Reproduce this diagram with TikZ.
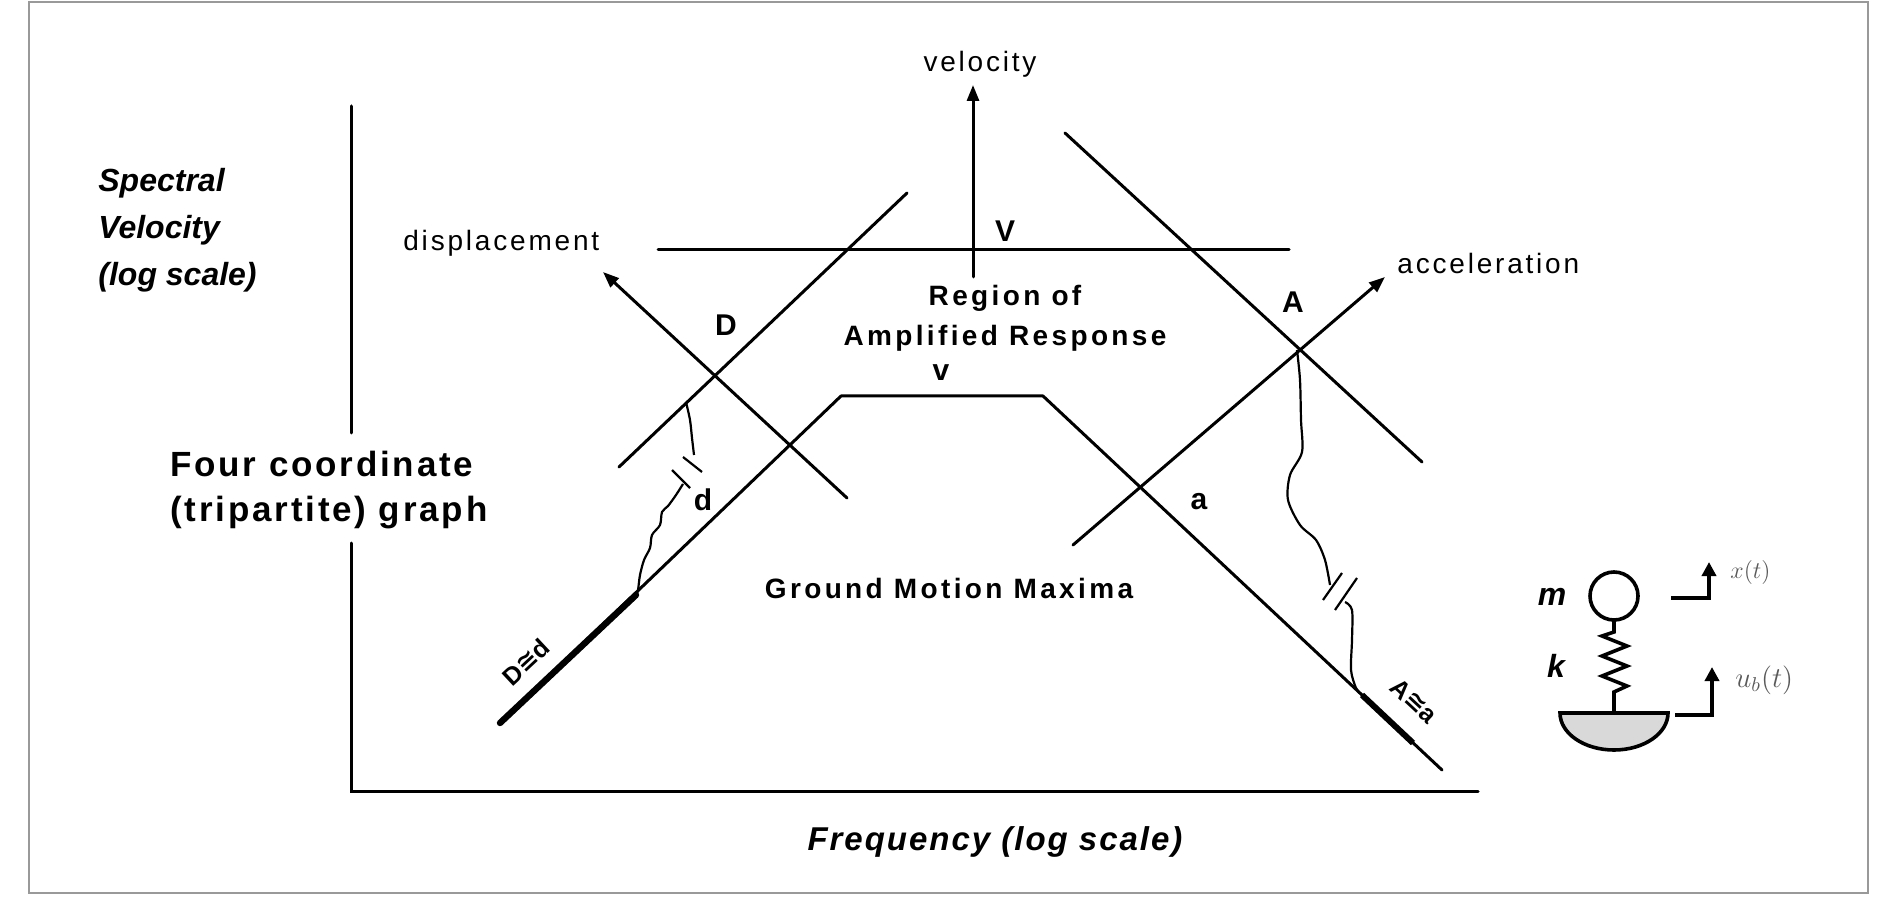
\documentclass[tikz,border=0pt]{standalone}
\usepackage{fontspec}
\setmainfont{Liberation Sans}
\newfontfamily\serifit{Liberation Serif}
\newfontfamily\djv{DejaVu Sans}
\usetikzlibrary{arrows.meta}
\tikzset{
  ln/.style={line width=1.5pt, line cap=round},
  arr/.style={ln, -{Triangle[length=8pt,width=6pt]}},
  lbl/.style={font=\fontsize{15}{18}\selectfont\bfseries, inner sep=0pt},
  sml/.style={font=\addfontfeature{LetterSpace=10}\fontsize{14}{16}\selectfont, inner sep=0pt},
  big/.style={font=\addfontfeature{LetterSpace=12}\fontsize{14}{20}\selectfont\bfseries, inner sep=0pt, align=center},
  eqlbl/.style={font=\fontsize{12.5}{15}\selectfont\bfseries, inner sep=0pt},
  wav/.style={line width=1.1pt, line join=round}
}
\begin{document}
\begin{tikzpicture}[x=0.5pt,y=-0.5pt]
\useasboundingbox (0,0) rectangle (1894,897);
\draw[gray!80, line width=1.2pt] (29,2) rectangle (1868,893);
% axes
\coordinate (yt) at (351,106); \coordinate (yb) at (351,791); \coordinate (xr) at (1478,791);
\draw[ln] (yt) -- (351,433);
\draw[ln] (351,543) -- (yb) -- (xr);
\node[font=\fontsize{16}{23.5}\selectfont\bfseries\itshape, align=left, anchor=west, inner sep=0pt] (yl) at (98,230) {Spectral\\Velocity\\(log scale)};
\node[font=\addfontfeature{LetterSpace=8}\fontsize{17.5}{22.5}\selectfont\bfseries, align=left, anchor=west, inner sep=0pt] (fc) at (170,490) {Four coordinate\\(tripartite) graph};
\node[font=\addfontfeature{LetterSpace=6}\fontsize{16.5}{20}\selectfont\bfseries\itshape, inner sep=0pt] (xl) at (995,842) {Frequency (log scale)};
% velocity
\coordinate (v0) at (973,277); \coordinate (v1) at (973,85);
\draw[arr] (v0) -- (v1);
\node[sml] (vl) at (980,64) {velocity};
\coordinate (Vl) at (658,250); \coordinate (Vr) at (1289,250);
\draw[ln] (Vl) -- (Vr);
\node[lbl] (Vt) at (1005,231) {V};
% D line and displacement arrow
\coordinate (D0) at (619,467); \coordinate (D1) at (907,193);
\draw[ln] (D0) -- (D1);
\coordinate (d0) at (847,498); \coordinate (d1) at (603,272);
\draw[arr] (d0) -- (d1);
\node[sml, anchor=west] (dl) at (403,243) {displacement};
\node[lbl] (Dt) at (726,325) {D};
% A line and acceleration arrow
\coordinate (A0) at (1065,133); \coordinate (A1) at (1422,462);
\draw[ln] (A0) -- (A1);
\coordinate (a0) at (1073,545); \coordinate (a1) at (1385,277);
\draw[arr] (a0) -- (a1);
\node[sml, anchor=west] (al) at (1397,263) {acceleration};
\node[lbl] (At) at (1293,302) {A};
% ground motion trapezoid
\coordinate (g0) at (500,723); \coordinate (g1) at (636,595); \coordinate (g2) at (841,396);
\coordinate (g3) at (1043,396); \coordinate (g4) at (1362,695); \coordinate (g5) at (1413,743); \coordinate (g6) at (1442,770);
\draw[ln, line join=round] (g0) -- (g2) -- (g3) -- (g6);
\draw[line width=3.2pt, line cap=round] (g0) -- (g1);
\draw[line width=3pt] (g4) -- (g5);
\node[lbl] (vt) at (941,373) {v};
\node[lbl] (dt) at (703,500) {d};
\node[lbl] (at) at (1199,502) {a};
\node[eqlbl, rotate=43] (Dd) at (526,662) {D{\djv\bfseries ≅}d};
\node[eqlbl, rotate=-43] (Aa) at (1414,701) {A{\djv\bfseries ≅}a};
\node[big] (reg) at (1005,318) {Region of\\Amplified Response};
\node[big] (gm) at (949,588) {Ground Motion Maxima};
% wavy lines
\draw[wav] plot[smooth] coordinates {(686,402) (690,420) (692,438) (694,455)};
\draw[wav] (683,457) -- (702,472);
\draw[wav] (672,470) -- (690,488);
\draw[wav] plot[smooth] coordinates {(683,484) (676,495) (668,506) (662,512) (660,525) (652,535) (650,548) (644,560) (640,575) (638,590) (636,596)};
\draw[wav] plot[smooth] coordinates {(1297,350) (1300,380) (1301,420) (1302,452) (1290,475) (1288,500) (1300,525) (1316,540) (1325,560) (1330,585)};
\draw[wav] (1323,600) -- (1342,573);
\draw[wav] (1335,610) -- (1357,578);
\draw[wav] plot[smooth] coordinates {(1345,602) (1352,610) (1352,640) (1351,670) (1356,688) (1362,695)};
% mass-spring oscillator
\draw[line width=1.8pt] (1614,596) circle[radius=24];
\draw[line width=1.8pt, line join=miter] (1614,620) -- (1614,632) -- (1602,636) -- (1627,646) -- (1602,656) -- (1627,666) -- (1602,676) -- (1627,686) -- (1614,692) -- (1614,713);
\draw[line width=1.8pt, fill=gray!30] (1560,713) -- (1668,713) arc[start angle=0, end angle=180, x radius=54, y radius=37] -- cycle;
\node[font=\fontsize{16}{18}\selectfont\bfseries\itshape, inner sep=0pt] (ml) at (1552,597) {m};
\node[font=\fontsize{16}{18}\selectfont\bfseries\itshape, inner sep=0pt] (kl) at (1556,666) {k};
\coordinate (x0) at (1671,598); \coordinate (x1) at (1709,598); \coordinate (x2) at (1709,562);
\draw[line width=2.2pt, -{Triangle[length=7pt,width=7pt]}] (x0) -- (x1) -- (x2);
\node[font=\fontsize{13}{15}\selectfont\serifit\itshape, text=gray!70!black, anchor=west, inner sep=0pt] (xt) at (1730,572) {$x(t)$};
\coordinate (u0) at (1675,715); \coordinate (u1) at (1712,715); \coordinate (u2) at (1712,667);
\draw[line width=2.2pt, -{Triangle[length=7pt,width=7pt]}] (u0) -- (u1) -- (u2);
\node[font=\fontsize{14}{15}\selectfont, text=gray!70!black, anchor=west, inner sep=0pt] (ut) at (1735,680) {$u_b(t)$};
\end{tikzpicture}
\end{document}
